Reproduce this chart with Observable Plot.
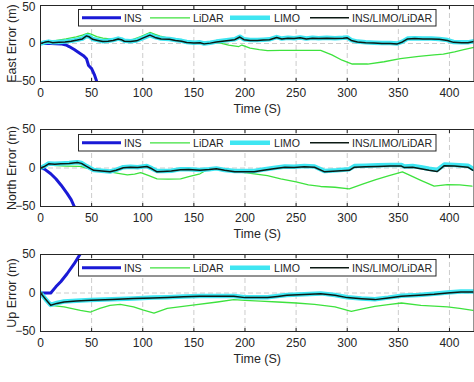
<!DOCTYPE html>
<html>
<head>
<meta charset="utf-8">
<script src="https://cdn.jsdelivr.net/npm/d3@7"></script>
<script src="https://cdn.jsdelivr.net/npm/@observablehq/plot@0.6"></script>
<style>
  body { margin: 0; background: #fff; }
  #chart { width: 474px; font-family: "Liberation Sans", Arial, sans-serif; }
  .panel { position: relative; }
  .legend { position: absolute; left: 78px; top: 9px; }
</style>
</head>
<body>
<div id="chart"></div>
<script>
// ---- tick labels / categories ----
const xTicks = [0, 50, 100, 150, 200, 250, 300, 350, 400];
const yTicks = [-50, 0, 50];
const seriesNames = ["INS", "LiDAR", "LIMO", "INS/LIMO/LiDAR"];
const axisTitles = ["East Error (m)", "North Error (m)", "Up Error (m)"];
const xTitle = "Time (S)";

// ---- East error [time s, error m] ----
const eastINS = [[0,0],[10,0],[20,-0.5],[25,-2],[28,-4],[33,-8],[38,-12.5],[42,-16],[45,-20],[47,-29],[50,-33],[53,-42],[55,-50],[57,-58]];
const eastLiDAR = [[0,0],[8,2],[16,4],[25,6],[35,8.8],[41,11],[46,13.5],[50,12],[55,9],[61,7],[68,6],[76,7],[82,5],[90,5],[98,9],[107,14.5],[112,12],[117,9.6],[125,7],[133,5.7],[143,3],[155,2],[165,1.5],[174,1],[184,-2],[194,-4],[197,-2],[205,-6],[214,-8],[222,-9.5],[235,-9],[250,-9],[262,-9],[274,-9],[285,-15],[295,-22],[305,-27],[320,-27],[336,-24],[352,-20],[370,-17],[385,-15],[394,-14],[405,-11],[414,-8],[424,-5]];
const eastLIMO = [[0,0],[4,1.5],[8,2.5],[12,1.5],[18,2],[24,2.5],[30,3.5],[36,5],[41,6.5],[45,10],[48,9],[51,6],[56,4.5],[61,3],[66,3.5],[71,4.5],[76,6.5],[79,5.5],[82,3.5],[88,3],[94,4],[100,7],[107,11],[112,8.5],[118,6.5],[126,6],[132,4.5],[138,3.5],[143,2],[150,1],[156,1.5],[160,0],[166,1],[172,2.5],[178,3.5],[184,4.5],[190,5.5],[195,9],[199,5.5],[205,4.5],[212,4.5],[218,5],[224,5.5],[231,8.5],[236,6.5],[242,7.5],[248,7],[254,8],[260,6.5],[266,7.5],[272,7],[280,7.5],[288,7],[296,7.5],[300,8],[304,4.5],[310,2.5],[318,1.5],[326,1],[334,0.5],[342,0.5],[349,0],[354,2.5],[359,6.5],[366,7],[374,6.5],[382,6.5],[390,6],[398,4.5],[404,2],[412,1.5],[418,1.5],[424,3]];
const eastFused = [[0,0],[4,1.5],[8,2.5],[12,1],[18,1.5],[24,2],[30,3],[36,4.5],[41,6],[45,10],[48,8.5],[51,5.5],[56,4],[61,2.6],[66,3],[71,4],[76,6],[79,5],[82,3],[88,2.5],[94,3.5],[100,7],[107,11],[112,8],[118,6],[126,5.5],[132,4],[138,3],[143,1.3],[150,0.5],[156,1],[160,-0.5],[166,0.5],[172,2],[178,3],[184,4],[190,5],[195,8.5],[199,5],[205,4],[212,4],[218,4.5],[224,5],[231,8],[236,6],[242,7],[248,6.5],[254,7.5],[260,6],[266,7],[272,6.5],[280,7],[288,6.5],[296,7],[300,7.5],[304,4],[310,2],[318,1],[326,0.5],[334,0],[342,0],[349,-0.5],[354,2],[359,6],[366,6.5],[374,6],[382,6],[390,5.5],[398,4],[404,1.5],[412,1],[418,1],[424,2.5]];

// ---- North error ----
const northINS = [[0,0],[4,-1.5],[10,-7.5],[15,-14],[20,-22],[26,-33],[30,-41],[33,-50],[36,-58]];
const northLiDAR = [[0,0],[4,2],[8,4],[15,3],[25,2.5],[39,2],[45,0],[52,-3],[60,-4],[68,-5],[76,-7],[85,-9],[92,-8],[98,-6],[106,-10],[114,-14],[125,-14.5],[137,-14],[146,-11],[156,-7.5],[163,-2.3],[170,-1.5],[180,-3],[190,-5],[200,-6],[211,-8],[222,-10],[235,-14],[250,-18],[262,-22],[274,-24],[288,-25],[302,-27],[315,-21],[328,-15],[341,-10],[354,-5],[362,-10],[372,-16],[385,-23.5],[398,-21.6],[410,-22],[422,-23.5]];
const northLIMO = [[0,0],[4,2.5],[8,6],[14,5.5],[20,6],[28,6.5],[36,7.5],[40,6.5],[45,2.5],[52,-2.5],[60,-3.5],[68,-4.5],[74,-2.5],[81,1],[88,1.5],[95,1],[104,2.5],[109,-0.5],[114,-4],[120,-4],[128,-3.5],[137,-1.5],[145,-1.5],[156,-2.5],[165,-1.5],[172,-0.5],[180,-2.5],[190,-4],[200,-4],[209,-4],[218,-2],[228,0],[239,2],[248,1.5],[258,2.5],[268,2],[278,-4],[290,-3],[302,-1.5],[307,2.5],[318,3],[330,3.5],[342,4],[353,4],[356,2],[364,2.5],[372,1],[380,-1],[388,-2.5],[395,4.5],[405,4],[418,3],[423,-1]];
const northFused = [[0,0],[4,2],[8,5.5],[14,5],[20,5.5],[28,6],[36,7],[40,6],[45,2],[52,-3],[60,-4],[68,-5],[74,-3],[81,0.3],[88,1],[95,0.5],[104,2],[109,-1],[114,-5],[120,-4.5],[128,-4],[137,-2.3],[145,-2],[156,-3],[165,-2],[172,-1],[180,-3],[190,-5],[200,-5],[209,-5],[218,-3],[228,-1],[239,1],[248,0.5],[258,1.5],[268,1],[278,-5],[290,-4],[302,-3],[307,1],[318,1.5],[330,2],[342,2.5],[353,2.5],[356,0.5],[364,1],[372,-1],[380,-3],[388,-4.5],[395,3],[405,2.5],[418,1],[423,-3]];

// ---- Up error ----
const upINS = [[0,0],[10,0],[15,8],[20,15],[26,25],[33,38],[39,51],[45,62]];
const upLiDAR = [[0,0],[5,-8],[10,-16],[23,-18],[39,-22.5],[49,-24.7],[58,-20],[68,-16],[78,-14.7],[91,-18],[100,-22],[111,-26],[124,-20],[147,-16],[173,-11.7],[189,-8.6],[200,-9.5],[215,-10.5],[232,-11.7],[250,-13],[268,-14.7],[288,-18],[304,-23.8],[315,-20.5],[327,-17.3],[340,-15],[353,-13],[372,-16],[398,-18],[410,-20],[423,-22.5]];
const upLIMO = [[0,0],[5,-8],[10,-15.5],[16,-13],[23,-11],[35,-10],[49,-9],[70,-8],[91,-7],[110,-6],[124,-5.5],[140,-4.5],[156,-4],[172,-4],[189,-4],[200,-5.5],[210,-5.5],[222,-5.5],[232,-4],[241,-2.5],[258,-1.5],[274,-0.5],[288,-2.5],[300,-5.5],[314,-7],[327,-8],[340,-6],[353,-3.5],[370,-2.5],[385,-1],[398,0.5],[411,2],[423,2]];
const upFused = [[0,0],[5,-8],[10,-16],[16,-13.5],[23,-11.7],[35,-10.5],[49,-9.5],[70,-8.5],[91,-7.3],[110,-6.5],[124,-6],[140,-5],[156,-4.3],[172,-4.3],[189,-4.3],[200,-6],[210,-6],[222,-6],[232,-4.5],[241,-3],[258,-2],[274,-1],[288,-3],[300,-6],[314,-7.5],[327,-8.6],[340,-6.5],[353,-4.3],[370,-3],[385,-1.7],[398,0],[411,1.3],[423,1.3]];

// ---- styling ----
const colors = {"INS": "#1a1ad6", "LiDAR": "#3ee23e", "LIMO": "#3fe6f2", "INS/LIMO/LiDAR": "#0c1a14"};
const widths = {"INS": 3, "LiDAR": 1.3, "LIMO": 4.5, "INS/LIMO/LiDAR": 1.5};
const ink = "#262626";

function makeLegend() {
  const layout = [
    {name: "INS", x1: 4, x2: 43, tx: 46},
    {name: "LiDAR", x1: 72, x2: 112, tx: 115},
    {name: "LIMO", x1: 152, x2: 192, tx: 196},
    {name: "INS/LIMO/LiDAR", x1: 232, x2: 271, tx: 274}
  ];
  const svg = d3.create("svg").attr("class", "legend").attr("width", 359).attr("height", 18);
  svg.append("rect").attr("x", 0.5).attr("y", 0.5).attr("width", 357.5).attr("height", 16.5)
    .attr("fill", "#fff").attr("stroke", ink).attr("stroke-width", 1);
  for (const it of layout) {
    svg.append("line").attr("x1", it.x1).attr("x2", it.x2).attr("y1", 8.8).attr("y2", 8.8)
      .attr("stroke", colors[it.name]).attr("stroke-width", widths[it.name]);
    svg.append("text").attr("x", it.tx).attr("y", 12.7).attr("fill", ink)
      .attr("font-size", 10.6).attr("font-family", "Liberation Sans, Arial, sans-serif").text(it.name);
  }
  return svg.node();
}

function panel(title, series, height, top, frameH, topLabelDy) {
  const L = (data, name) => Plot.line(data, {x: d => d[0], y: d => d[1], stroke: colors[name], strokeWidth: widths[name], clip: true, strokeLinejoin: "round"});
  const plot = Plot.plot({
    width: 474, height,
    marginTop: top, marginLeft: 40, marginRight: 0.5, marginBottom: height - top - frameH,
    x: {domain: [0, 424]},
    y: {domain: [-50, 50]},
    style: {fontFamily: "Liberation Sans, Arial, sans-serif", fontSize: "12px", color: ink, background: "transparent", overflow: "visible"},
    marks: [
      Plot.gridX(xTicks, {stroke: "#cccccc", strokeOpacity: 1, strokeDasharray: "5,3"}),
      Plot.gridY([0], {stroke: "#cccccc", strokeOpacity: 1, strokeDasharray: "5,3"}),
      L(series[0], "INS"),
      L(series[1], "LiDAR"),
      L(series[2], "LIMO"),
      L(series[3], "INS/LIMO/LiDAR"),
      Plot.frame({stroke: ink, strokeWidth: 1}),
      Plot.axisX(xTicks, {tickSize: 0, tickPadding: 7, label: null, fill: ink}),
      Plot.axisY(yTicks.slice(0, -1), {tickSize: 0, tickPadding: 5, label: null, fill: ink}),
      Plot.axisY(yTicks.slice(-1), {tickSize: 0, tickPadding: 5, label: null, fill: ink, dy: topLabelDy}),
      Plot.axisX(xTicks, {anchor: "bottom", tickSize: 3, dy: -3, text: null, label: null, stroke: ink}),
      Plot.axisX(xTicks, {anchor: "top", tickSize: 3, dy: 3, text: null, label: null, stroke: ink}),
      Plot.axisY(yTicks, {anchor: "left", tickSize: 3, dx: 3, text: null, label: null, stroke: ink}),
      Plot.text([xTitle], {text: d => d, frameAnchor: "bottom", textAnchor: "middle", lineAnchor: "middle", dy: 27, fontSize: 12.5, fill: ink}),
      Plot.text([title], {text: d => d, frameAnchor: "left", textAnchor: "middle", lineAnchor: "middle", dx: -29, rotate: -90, fontSize: 12.5, fill: ink})
    ]
  });
  const div = document.createElement("div");
  div.className = "panel";
  div.appendChild(plot);
  div.appendChild(makeLegend());
  return div;
}

const chart = document.getElementById("chart");
chart.appendChild(panel(axisTitles[0], [eastINS, eastLiDAR, eastLIMO, eastFused], 125, 5, 76, 2));
chart.appendChild(panel(axisTitles[1], [northINS, northLiDAR, northLIMO, northFused], 125, 4, 77, 0));
chart.appendChild(panel(axisTitles[2], [upINS, upLiDAR, upLIMO, upFused], 132, 4, 77, 0));
</script>
</body>
</html>
